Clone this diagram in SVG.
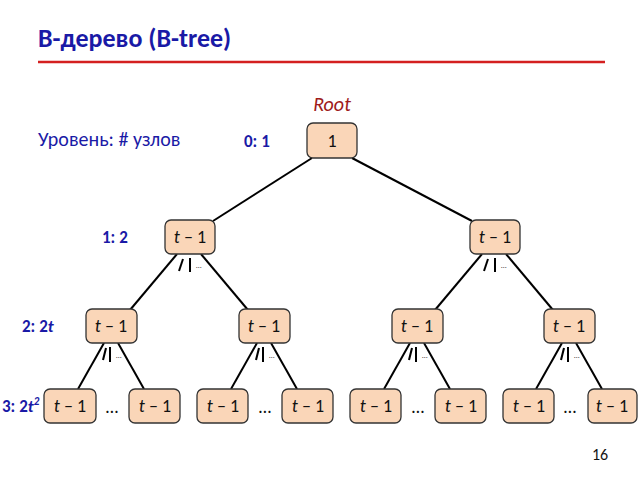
<svg xmlns="http://www.w3.org/2000/svg" width="638" height="479" viewBox="0 0 638 479">
<style>
text{font-family:Carlito,"Liberation Sans",sans-serif}
.n{fill:#fad6b8;stroke:#333;stroke-width:1.3}
.t{font-size:18px;fill:#111;text-anchor:middle}
.lv{font-size:17px;font-weight:bold;fill:#1a1aa6}
.e line{stroke:#000;stroke-width:2}
.d{font-size:8px;fill:#333}
</style>
<rect width="638" height="479" fill="#fff"/>
<text x="38" y="47" font-size="26" font-weight="bold" fill="#1a1aa6">B-дерево (B-tree)</text>
<line x1="38" y1="62" x2="605" y2="62" stroke="#d42020" stroke-width="2.5"/>
<text x="332" y="111" font-size="20" font-style="italic" fill="#9e1b1b" text-anchor="middle">Root</text>
<text x="38" y="146" font-size="20" fill="#1a1aa6">Уровень: # узлов</text>
<text class="lv" x="244" y="147">0: 1</text>
<text class="lv" x="102" y="243">1: 2</text>
<text class="lv" x="22" y="332">2: 2<tspan font-style="italic">t</tspan></text>
<text class="lv" x="2" y="412">3: 2<tspan font-style="italic">t</tspan><tspan font-size="11" dy="-7" font-style="italic">2</tspan></text>
<g class="e" id="edges">
<line x1="312" y1="158" x2="213" y2="221"/><line x1="352" y1="158" x2="472" y2="221"/>
<line x1="177" y1="254" x2="130" y2="310"/><line x1="201" y1="254" x2="248" y2="310"/>
<line x1="482" y1="254" x2="435" y2="310"/><line x1="506" y1="254" x2="553" y2="310"/>
<line x1="183" y1="259" x2="179" y2="271"/><line x1="190" y1="258" x2="190" y2="272"/>
<line x1="488" y1="259" x2="484" y2="271"/><line x1="495" y1="258" x2="495" y2="272"/>
<g id="l2">
<line x1="104" y1="343" x2="78" y2="389"/><line x1="118" y1="343" x2="144" y2="389"/>
<line x1="106" y1="348" x2="103" y2="360"/><line x1="110" y1="347" x2="110" y2="362"/>
</g>
<use href="#l2" x="153"/><use href="#l2" x="306"/><use href="#l2" x="458"/>
</g>
<text class="d" x="196" y="268">…</text><text class="d" x="501" y="268">…</text>
<text class="d" x="116" y="358">…</text><text class="d" x="269" y="358">…</text><text class="d" x="422" y="358">…</text><text class="d" x="574" y="358">…</text>
<g id="root"><rect class="n" x="307" y="123" width="50" height="35" rx="6"/><text class="t" x="332" y="147">1</text></g>
<g id="a1"><rect class="n" x="165" y="220" width="50" height="34" rx="6"/><text class="t" x="190" y="243"><tspan font-style="italic">t</tspan> – 1</text></g>
<g id="a2"><rect class="n" x="470" y="220" width="50" height="34" rx="6"/><text class="t" x="495" y="243"><tspan font-style="italic">t</tspan> – 1</text></g>
<g id="b1"><rect class="n" x="86" y="309" width="51" height="34" rx="6"/><text class="t" x="111" y="332"><tspan font-style="italic">t</tspan> – 1</text></g>
<g id="b2"><rect class="n" x="239" y="309" width="51" height="34" rx="6"/><text class="t" x="264" y="332"><tspan font-style="italic">t</tspan> – 1</text></g>
<g id="b3"><rect class="n" x="392" y="309" width="51" height="34" rx="6"/><text class="t" x="417" y="332"><tspan font-style="italic">t</tspan> – 1</text></g>
<g id="b4"><rect class="n" x="544" y="309" width="51" height="34" rx="6"/><text class="t" x="569" y="332"><tspan font-style="italic">t</tspan> – 1</text></g>
<g id="c1"><rect class="n" x="44" y="389" width="52" height="34" rx="6"/><text class="t" x="70" y="412"><tspan font-style="italic">t</tspan> – 1</text></g>
<g id="c2"><rect class="n" x="129" y="389" width="51" height="34" rx="6"/><text class="t" x="155" y="412"><tspan font-style="italic">t</tspan> – 1</text></g>
<g id="c3"><rect class="n" x="197" y="389" width="51" height="34" rx="6"/><text class="t" x="223" y="412"><tspan font-style="italic">t</tspan> – 1</text></g>
<g id="c4"><rect class="n" x="282" y="389" width="51" height="34" rx="6"/><text class="t" x="308" y="412"><tspan font-style="italic">t</tspan> – 1</text></g>
<g id="c5"><rect class="n" x="350" y="389" width="51" height="34" rx="6"/><text class="t" x="376" y="412"><tspan font-style="italic">t</tspan> – 1</text></g>
<g id="c6"><rect class="n" x="435" y="389" width="51" height="34" rx="6"/><text class="t" x="461" y="412"><tspan font-style="italic">t</tspan> – 1</text></g>
<g id="c7"><rect class="n" x="503" y="389" width="51" height="34" rx="6"/><text class="t" x="529" y="412"><tspan font-style="italic">t</tspan> – 1</text></g>
<g id="c8"><rect class="n" x="588" y="389" width="49" height="34" rx="6"/><text class="t" x="612" y="412"><tspan font-style="italic">t</tspan> – 1</text></g>
<text class="t" x="112" y="413">…</text><text class="t" x="265" y="413">…</text><text class="t" x="418" y="413">…</text><text class="t" x="570" y="413">…</text>
<text x="600" y="460" font-size="16" fill="#111" text-anchor="middle">16</text>
</svg>
